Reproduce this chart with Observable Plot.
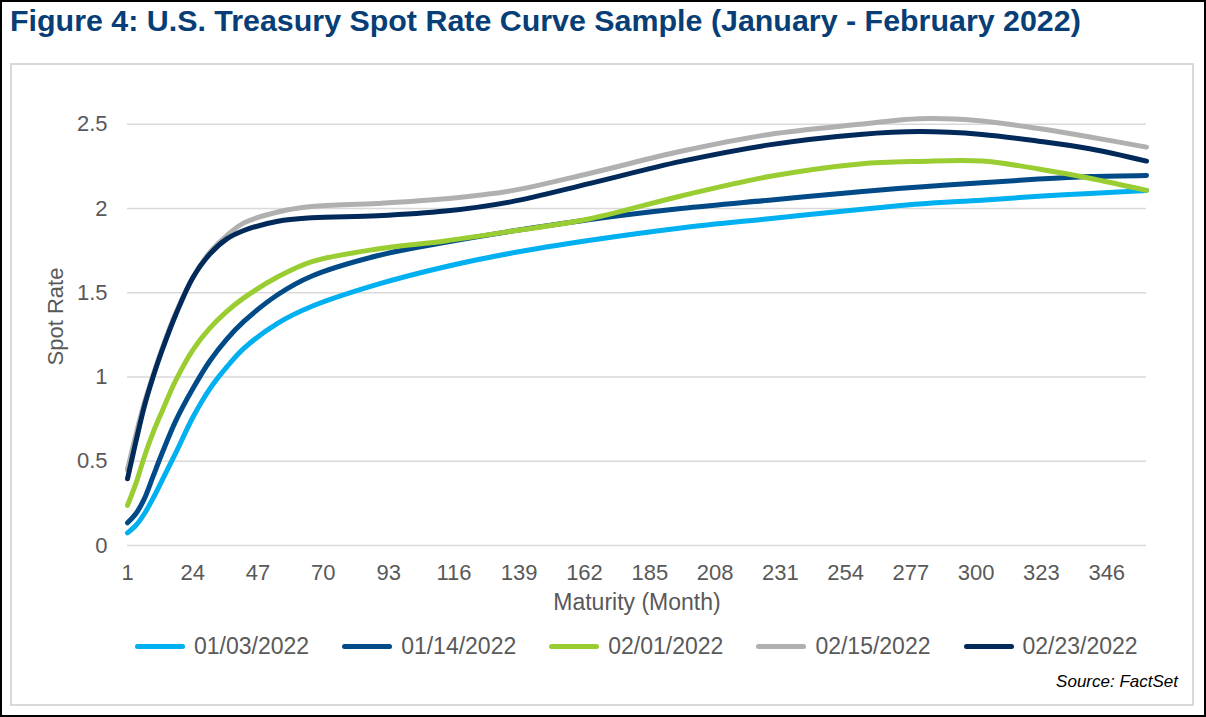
<!DOCTYPE html>
<html><head><meta charset="utf-8">
<script src="https://cdn.jsdelivr.net/npm/d3@7"></script>
<script src="https://cdn.jsdelivr.net/npm/@observablehq/plot@0.6"></script>
<style>
html,body{margin:0;padding:0;background:#fff;}
body{width:1206px;height:717px;position:relative;overflow:hidden;font-family:"Liberation Sans",Arial,sans-serif;}
#frame{position:absolute;left:0;top:0;width:1202px;height:713px;border:2px solid #000;}
#title{position:absolute;left:10px;top:3px;font-weight:bold;font-size:30.4px;color:#073e76;white-space:nowrap;}
#box{position:absolute;left:10px;top:63px;width:1180px;height:639px;border:2px solid #d9d9d9;}
#chart{position:absolute;left:12px;top:80px;}
#legend{position:absolute;top:633px;left:135px;display:flex;gap:33px;align-items:center;}
.item{display:flex;align-items:center;font-size:23px;color:#595959;}
.sw{width:50px;height:5px;border-radius:3px;margin-right:9px;}
#source{position:absolute;right:28px;top:672px;font-style:italic;font-size:17px;color:#000;}
</style></head>
<body>
<div id="frame"></div>
<div id="title">Figure 4: U.S. Treasury Spot Rate Curve Sample (January - February 2022)</div>
<div id="box"></div>
<div id="chart"></div>
<div id="legend"></div>
<div id="source">Source: FactSet</div>
<script>
const months = [1, 4, 7, 10, 13, 18, 24, 30, 36, 42, 54, 66, 89, 113, 136, 164, 196, 227, 259, 280, 302, 322, 340, 360];
const s0103 = [0.075, 0.12, 0.19, 0.28, 0.38, 0.55, 0.76, 0.93, 1.06, 1.17, 1.32, 1.42, 1.55, 1.655, 1.735, 1.812, 1.885, 1.94, 1.995, 2.027, 2.05, 2.073, 2.09, 2.108];
const s0114 = [0.135, 0.19, 0.28, 0.41, 0.54, 0.74, 0.93, 1.095, 1.225, 1.33, 1.49, 1.60, 1.72, 1.80, 1.865, 1.935, 2.0, 2.05, 2.10, 2.128, 2.153, 2.175, 2.19, 2.197];
const s0201 = [0.238, 0.37, 0.53, 0.67, 0.79, 0.98, 1.16, 1.29, 1.39, 1.47, 1.595, 1.685, 1.76, 1.808, 1.865, 1.94, 2.075, 2.19, 2.265, 2.28, 2.282, 2.235, 2.18, 2.108];
const s0215 = [0.45, 0.66, 0.85, 1.01, 1.16, 1.38, 1.59, 1.74, 1.84, 1.915, 1.98, 2.012, 2.03, 2.058, 2.105, 2.21, 2.34, 2.44, 2.50, 2.533, 2.52, 2.475, 2.425, 2.365];
const s0223 = [0.396, 0.62, 0.83, 1.0, 1.15, 1.37, 1.59, 1.73, 1.82, 1.87, 1.925, 1.945, 1.957, 1.985, 2.04, 2.15, 2.28, 2.378, 2.44, 2.457, 2.44, 2.40, 2.355, 2.282];
const seriesNames = ["01/03/2022", "01/14/2022", "02/01/2022", "02/15/2022", "02/23/2022"];
const seriesColors = ["#00b0f0", "#004b87", "#9acd32", "#b0b0b0", "#012a5a"];
const tickMonths = [1, 24, 47, 70, 93, 116, 139, 162, 185, 208, 231, 254, 277, 300, 323, 346];
const yTicks = [0, 0.5, 1, 1.5, 2, 2.5];

const allSeries = [s0103, s0114, s0201, s0215, s0223];
const rows = [];
allSeries.forEach((vals, i) => vals.forEach((v, j) => rows.push({month: months[j], value: v, series: seriesNames[i]})));

const chart = Plot.plot({
  width: 1180, height: 540,
  marginLeft: 115, marginRight: 46, marginTop: 27, marginBottom: 75,
  style: {fontFamily: '"Liberation Sans", Arial, sans-serif', background: "transparent"},
  x: {domain: [1, 360]},
  y: {domain: [0, 2.6]},
  color: {domain: seriesNames, range: seriesColors},
  marks: [
    Plot.gridY(yTicks, {stroke: "#d9d9d9", strokeOpacity: 1, strokeWidth: 1.5}),
    Plot.axisY(yTicks, {tickSize: 0, tickPadding: 20, fontSize: 22, fill: "#595959", tickFormat: d => String(d), label: null}),
    Plot.axisX(tickMonths, {tickSize: 0, tickPadding: 19, fontSize: 22, fill: "#595959", tickFormat: d => String(d), label: null}),
    Plot.text(["Spot Rate"], {frameAnchor: "left", dx: -72, dy: -10, rotate: -90, textAnchor: "middle", fontSize: 22, fill: "#595959"}),
    Plot.text(["Maturity (Month)"], {frameAnchor: "bottom", dy: 64, fontSize: 23, fill: "#595959"}),
    Plot.line(rows, {x: "month", y: "value", z: "series", stroke: "series", strokeWidth: 5, curve: "catmull-rom", strokeLinecap: "round", strokeLinejoin: "round"})
  ]
});
document.getElementById("chart").appendChild(chart);

const legend = document.getElementById("legend");
seriesNames.forEach((n, i) => {
  const it = document.createElement("div");
  it.className = "item";
  it.innerHTML = `<span class="sw" style="background:${seriesColors[i]}"></span><span>${n}</span>`;
  legend.appendChild(it);
});
</script>
</body></html>
